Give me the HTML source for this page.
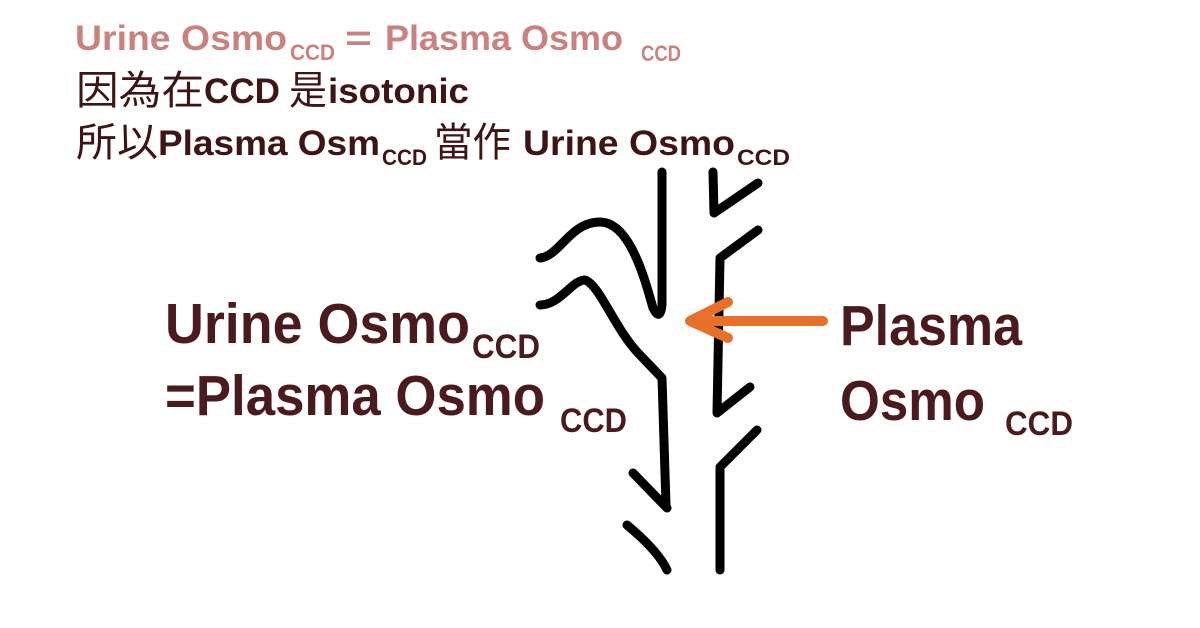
<!DOCTYPE html>
<html><head><meta charset="utf-8"><style>
html,body{margin:0;padding:0;background:#fff;width:1200px;height:628px;overflow:hidden}
svg{display:block}
text{font-family:"Liberation Sans","Noto Sans CJK TC",sans-serif;font-weight:bold}
.cjk{font-family:"Noto Sans CJK TC","WenQuanYi Zen Hei",sans-serif;font-weight:normal}
</style></head><body>
<svg width="1200" height="628" viewBox="0 0 1200 628" xmlns="http://www.w3.org/2000/svg">
<g fill="#c9827f">
<text x="75" y="50" font-size="35" textLength="212" lengthAdjust="spacingAndGlyphs">Urine Osmo</text>
<text x="290" y="60" font-size="22" textLength="45" lengthAdjust="spacingAndGlyphs">CCD</text>
<text x="345" y="50" font-size="35" textLength="27" lengthAdjust="spacingAndGlyphs">=</text>
<text x="385" y="50" font-size="35" textLength="238" lengthAdjust="spacingAndGlyphs">Plasma Osmo</text>
<text x="641" y="61" font-size="22" textLength="40" lengthAdjust="spacingAndGlyphs">CCD</text>
</g>
<g fill="#3e1416">
<text class="cjk" x="76" y="104" font-size="40" textLength="128" lengthAdjust="spacingAndGlyphs">因為在</text>
<text x="204" y="103" font-size="35" textLength="76" lengthAdjust="spacingAndGlyphs">CCD</text>
<text class="cjk" x="289" y="104" font-size="40" textLength="38" lengthAdjust="spacingAndGlyphs">是</text>
<text x="328" y="103" font-size="35" textLength="141" lengthAdjust="spacingAndGlyphs">isotonic</text>
<text class="cjk" x="76" y="156" font-size="40" textLength="82" lengthAdjust="spacingAndGlyphs">所以</text>
<text x="158" y="155" font-size="35" textLength="222" lengthAdjust="spacingAndGlyphs">Plasma Osm</text>
<text x="382" y="165" font-size="22" textLength="45" lengthAdjust="spacingAndGlyphs">CCD</text>
<text class="cjk" x="434" y="156" font-size="40" textLength="77" lengthAdjust="spacingAndGlyphs">當作</text>
<text x="523" y="155" font-size="35" textLength="212" lengthAdjust="spacingAndGlyphs">Urine Osmo</text>
<text x="737" y="165" font-size="22" textLength="53" lengthAdjust="spacingAndGlyphs">CCD</text>
</g>
<g fill="#4a1a1c">
<text x="165" y="343" font-size="57" textLength="305" lengthAdjust="spacingAndGlyphs">Urine Osmo</text>
<text x="472" y="358" font-size="34" textLength="68" lengthAdjust="spacingAndGlyphs">CCD</text>
<text x="165" y="415" font-size="57" textLength="380" lengthAdjust="spacingAndGlyphs">=Plasma Osmo</text>
<text x="560" y="432" font-size="34" textLength="67" lengthAdjust="spacingAndGlyphs">CCD</text>
<text x="840" y="345" font-size="57" textLength="182" lengthAdjust="spacingAndGlyphs">Plasma</text>
<text x="840" y="420" font-size="57" textLength="145" lengthAdjust="spacingAndGlyphs">Osmo</text>
<text x="1005" y="435" font-size="34" textLength="68" lengthAdjust="spacingAndGlyphs">CCD</text>
</g>
<g fill="none" stroke="#000" stroke-width="9" stroke-linecap="round" stroke-linejoin="round">
<path d="M540,258 C560,256 570,222 600,222 C630,222 645,280 653,308 Q660,322 662,305 L662,172"/>
<path d="M540,305 C560,305 572,280 585,280 C600,285 615,330 640,355 L662,378 L666,505"/>
<path d="M633,473 L667,508"/>
<path d="M627,525 C645,540 660,555 667,570"/>
<path d="M713,172 L714,213 L758,183"/>
<path d="M758,230 L720,258 L717,413 L750,387"/>
<path d="M757,430 L720,467 L720,570"/>
</g>
<g fill="none" stroke="#e8712a" stroke-width="10" stroke-linecap="round" stroke-linejoin="round">
<path d="M823,321 L695,321"/>
<path d="M728,302 L690,321 L728,338"/>
</g>
</svg>
</body></html>
